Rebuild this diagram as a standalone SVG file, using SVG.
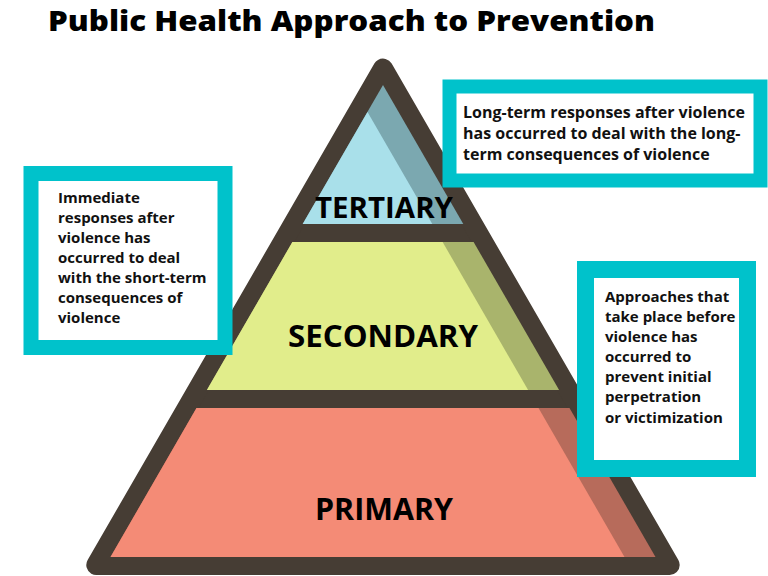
<svg xmlns="http://www.w3.org/2000/svg" width="768" height="576" viewBox="0 0 768 576">
<style>
.title{font-family:"Open Sans","Liberation Sans",sans-serif;font-weight:800;font-size:29px;fill:#000}
.lvl{font-family:"Open Sans","Liberation Sans",sans-serif;font-weight:bold;fill:#000;text-anchor:middle}
.box{fill:#fff;stroke:#00c2cb}
.bt{font-family:"Open Sans","Liberation Sans",sans-serif;font-weight:bold;font-size:15px;fill:#111}
.bt1{font-family:"Open Sans","Liberation Sans",sans-serif;font-weight:bold;font-size:16px;fill:#111}
</style>
<rect width="768" height="576" fill="#fff"/>
<text class="title" x="48" y="31" textLength="607" lengthAdjust="spacingAndGlyphs">Public Health Approach to Prevention</text>
<g id="pyramid">
<polygon points="383,68.6 96.3,565 669.7,565" fill="#463d34" stroke="#463d34" stroke-width="20" stroke-linejoin="round"/>
</g>
<g id="tertiary">
<polygon points="383,85 302.7,224 463.3,224" fill="#7ba8b0"/>
<polygon points="367.5,112 302.7,224 432.3,224" fill="#a9e0ea"/>
<text class="lvl" x="384" y="218" font-size="28.5" textLength="138" lengthAdjust="spacingAndGlyphs">TERTIARY</text>
</g>
<g id="secondary">
<polygon points="292.4,242 473.6,242 559.1,390 206.9,390" fill="#a9b46c"/>
<polygon points="292.4,242 442.6,242 528.1,390 206.9,390" fill="#e1ed8b"/>
<text class="lvl" x="383" y="347" font-size="30.5" textLength="190" lengthAdjust="spacingAndGlyphs">SECONDARY</text>
</g>
<g id="primary">
<polygon points="196.5,408 569.5,408 655.5,557 110.5,557" fill="#b76b5b"/>
<polygon points="196.5,408 538.5,408 624.5,557 110.5,557" fill="#f48b76"/>
<text class="lvl" x="384" y="520" font-size="31" textLength="138" lengthAdjust="spacingAndGlyphs">PRIMARY</text>
</g>
<g id="box-tertiary">
<rect class="box" x="449.5" y="86.5" width="311" height="94" stroke-width="14"/>
<text class="bt1" x="463" y="118">Long-term responses after violence</text>
<text class="bt1" x="463" y="139">has occurred to deal with the long-</text>
<text class="bt1" x="463" y="160">term consequences of violence</text>
</g>
<g id="box-secondary">
<rect class="box" x="31" y="173.5" width="194" height="174" stroke-width="15"/>
<text class="bt" x="58" y="203">Immediate</text>
<text class="bt" x="58" y="223">responses after</text>
<text class="bt" x="58" y="243">violence has</text>
<text class="bt" x="58" y="263">occurred to deal</text>
<text class="bt" x="58" y="283">with the short-term</text>
<text class="bt" x="58" y="303">consequences of</text>
<text class="bt" x="58" y="323">violence</text>
</g>
<g id="box-primary">
<rect class="box" x="585.5" y="269.5" width="162" height="199" stroke-width="17"/>
<text class="bt" x="605" y="302">Approaches that</text>
<text class="bt" x="605" y="322">take place before</text>
<text class="bt" x="605" y="342">violence has</text>
<text class="bt" x="605" y="362">occurred to</text>
<text class="bt" x="605" y="382">prevent initial</text>
<text class="bt" x="605" y="402">perpetration</text>
<text class="bt" x="605" y="423">or victimization</text>
</g>
<g id="connectors"/>
</svg>
